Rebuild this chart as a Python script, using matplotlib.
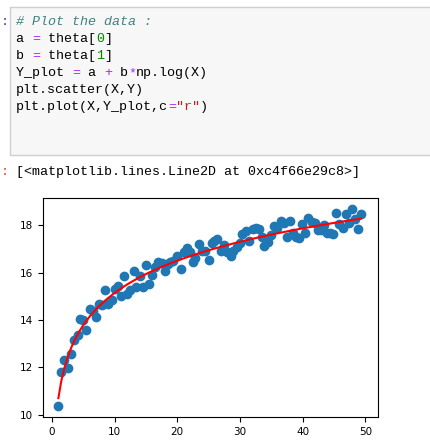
import numpy as np
import matplotlib.pyplot as plt
from matplotlib.patches import Rectangle

# values
X = [1.05, 1.5, 1.96, 2.6, 3.1, 3.5, 4.1, 4.5, 5.0, 5.5, 6.1, 6.6, 7.1, 7.5, 8.0, 8.5,
     9.0, 9.6, 10.0, 10.5, 11.0, 11.5, 12.0, 12.4, 13.1, 13.5, 14.0, 14.6, 15.0, 15.5,
     16.0, 16.5, 17.0, 17.5, 18.0, 18.5, 18.9, 19.4, 20.0, 20.6, 21.1, 21.5, 22.0, 22.5,
     22.9, 23.4, 23.9, 24.5, 25.0, 25.5, 25.9, 26.4, 26.9, 27.4, 28.0, 28.5, 28.9, 29.5,
     30.0, 30.4, 31.0, 31.5, 32.0, 32.5, 33.0, 33.5, 33.9, 34.4, 35.0, 35.5, 35.9, 36.5,
     37.0, 37.5, 37.9, 38.4, 38.9, 39.4, 39.9, 40.4, 40.9, 41.4, 41.9, 42.4, 42.9, 43.4,
     43.9, 44.4, 44.9, 45.3, 45.8, 46.4, 46.9, 47.4, 47.9, 48.3, 48.8, 49.3]
Y = [10.38, 11.82, 12.32, 11.99, 12.58, 13.14, 13.36, 14.02, 13.98, 13.59, 14.48, 14.37,
     14.13, 14.69, 14.62, 15.28, 14.69, 14.86, 15.3, 15.42, 15.0, 15.85, 15.1, 15.28,
     16.08, 15.4, 15.87, 15.4, 16.32, 15.5, 15.9, 16.23, 16.46, 16.4, 16.05, 16.37, 16.46,
     16.5, 16.68, 16.15, 16.85, 17.03, 16.85, 16.45, 16.6, 17.2, 16.9, 16.93, 16.52, 17.23,
     17.35, 17.42, 16.92, 17.17, 16.85, 16.72, 16.9, 17.1, 17.27, 17.63, 17.77, 17.35,
     17.86, 17.89, 17.83, 17.5, 17.13, 17.28, 17.6, 17.97, 17.89, 18.18, 18.08, 17.52,
     18.18, 17.69, 17.51, 17.48, 18.04, 17.69, 18.29, 18.12, 18.08, 17.79, 17.81, 18.02,
     17.69, 17.66, 17.62, 18.5, 18.04, 17.87, 18.48, 18.1, 18.67, 18.25, 17.86, 18.46]
theta = [10.6, 1.97]

W, H = 431, 448
fig = plt.figure(figsize=(W / 100, H / 100), dpi=100)

# notebook code cell
fig.patches.append(Rectangle((10 / W, 1 - 155 / H), 421 / W, 148 / H, transform=fig.transFigure,
                             facecolor="#f7f7f7", edgecolor="#cfcfcf", lw=1))

mono = "Liberation Mono"
fs = 9.6
cw = 0.6 * fs * 100 / 72  # char width in px
code = [
    [("# Plot the data :", "#408080", "italic")],
    [("a ", "k", "normal"), ("=", "#AA22FF", "normal"), (" theta[", "k", "normal"),
     ("0", "#008800", "normal"), ("]", "k", "normal")],
    [("b ", "k", "normal"), ("=", "#AA22FF", "normal"), (" theta[", "k", "normal"),
     ("1", "#008800", "normal"), ("]", "k", "normal")],
    [("Y_plot ", "k", "normal"), ("=", "#AA22FF", "normal"), (" a ", "k", "normal"),
     ("+", "#AA22FF", "normal"), (" b", "k", "normal"), ("*", "#AA22FF", "normal"),
     ("np.log(X)", "k", "normal")],
    [("plt.scatter(X,Y)", "k", "normal")],
    [("plt.plot(X,Y_plot,c", "k", "normal"), ("=", "#AA22FF", "normal"),
     ('"r"', "#BA2121", "normal"), (")", "k", "normal")],
]
for i, line in enumerate(code):
    x = 16
    y = 22 + i * 17
    for tok, col, st in line:
        fig.text(x / W, 1 - y / H, tok, family=mono, size=fs, color=col, style=st, va="center")
        x += len(tok) * cw

fig.text(1 / W, 1 - 22 / H, ":", family=mono, size=fs, color="#303F9F", va="center")
fig.text(1 / W, 1 - 172 / H, ":", family=mono, size=fs, color="#D84315", va="center")
fig.text(16 / W, 1 - 172 / H, "[<matplotlib.lines.Line2D at 0xc4f66e29c8>]",
         family=mono, size=fs, color="k", va="center")

# chart
ax = fig.add_axes([43 / W, 1 - 417 / H, 335 / W, 219 / H])
Xa = np.array(X)
Y_plot = theta[0] + theta[1] * np.log(Xa)
ax.scatter(X, Y, s=36, color="#1f77b4")
ax.plot(X, Y_plot, c="r")
ax.set_xlim(-1.4, 52)
ax.set_ylim(9.9, 19.15)
ax.set_xticks([0, 10, 20, 30, 40, 50])
ax.set_yticks([10, 12, 14, 16, 18])
ax.tick_params(labelsize=7.5)

fig.savefig("out.png", dpi=100)
